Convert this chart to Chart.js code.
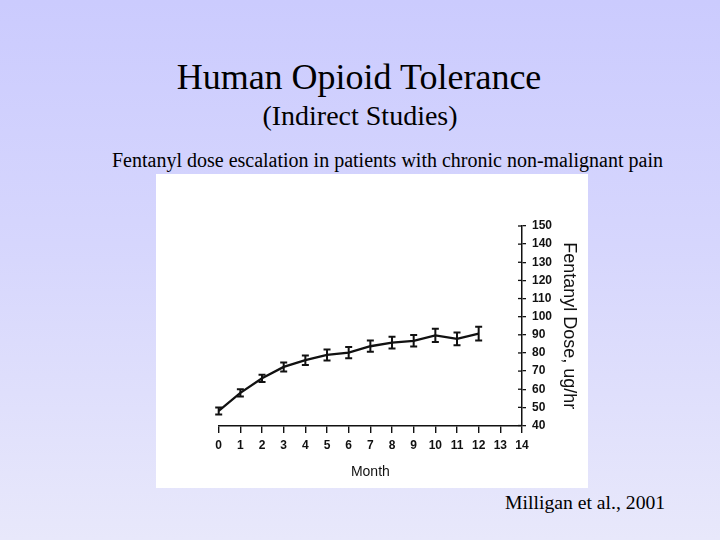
<!DOCTYPE html>
<html>
<head>
<meta charset="utf-8">
<script src="https://cdn.jsdelivr.net/npm/chart.js@4"></script>
<style>
  html, body { margin: 0; padding: 0; }
  body {
    width: 720px; height: 540px; position: relative; overflow: hidden;
    background: linear-gradient(to bottom, #cbcbfe 0%, #d6d6fd 45%, #e8e8fb 100%);
    font-family: "Liberation Serif", "Times New Roman", serif; color: #000;
  }
  .txt { position: absolute; white-space: nowrap; line-height: 1; }
  #title { left: 0; width: 718px; text-align: center; top: 59px; font-size: 36px; }
  #sub1 { left: 0; width: 720px; text-align: center; top: 101.5px; font-size: 28px; }
  #sub2 { left: 112px; top: 150px; font-size: 20px; }
  #cite { left: 505px; top: 492.5px; font-size: 19.7px; }
  #box { position: absolute; left: 156px; top: 174px; width: 432px; height: 314px; background: #fff; }
  #box canvas { display: block; }
</style>
</head>
<body>
<div class="txt" id="title">Human Opioid Tolerance</div>
<div class="txt" id="sub1">(Indirect Studies)</div>
<div class="txt" id="sub2">Fentanyl dose escalation in patients with chronic non-malignant pain</div>
<div id="box"><canvas id="c" width="432" height="314"></canvas></div>
<div class="txt" id="cite">Milligan et al., 2001</div>
<script>
// ---- data ----
const months = [0, 1, 2, 3, 4, 5, 6, 7, 8, 9, 10, 11, 12];
const doseMean = [48.0, 58.0, 66.0, 72.3, 76.0, 78.9, 80.2, 83.7, 85.7, 86.7, 89.7, 87.8, 90.7];
const doseErr = [1.9, 2.0, 2.0, 2.5, 2.6, 3.0, 3.1, 3.1, 3.3, 3.2, 3.6, 3.5, 3.8];
const xTicks = [0, 1, 2, 3, 4, 5, 6, 7, 8, 9, 10, 11, 12, 13, 14];
const yTicks = [40, 50, 60, 70, 80, 90, 100, 110, 120, 130, 140, 150];
const xTitle = 'Month';
const yTitle = 'Fentanyl Dose, ug/hr';

const points = months.map((m, i) => ({ x: m, y: doseMean[i] }));

// error bars + inward half of y tick marks, drawn through the chart's scales
const errorBars = {
  id: 'errorBars',
  afterDatasetsDraw(chart) {
    const { ctx, scales: { x, y } } = chart;
    ctx.save();
    ctx.strokeStyle = '#111';
    ctx.lineWidth = 2;
    ctx.lineCap = 'butt';
    months.forEach((m, i) => {
      const px = x.getPixelForValue(m);
      const top = y.getPixelForValue(doseMean[i] + doseErr[i]);
      const bot = y.getPixelForValue(doseMean[i] - doseErr[i]);
      ctx.beginPath();
      ctx.moveTo(px, top); ctx.lineTo(px, bot);
      ctx.moveTo(px - 3.5, top); ctx.lineTo(px + 3.5, top);
      ctx.moveTo(px - 3.5, bot); ctx.lineTo(px + 3.5, bot);
      ctx.stroke();
    });
    // inward part of the "+" y ticks
    ctx.lineWidth = 1.3;
    const ax = y.left;
    yTicks.forEach(v => {
      const py = y.getPixelForValue(v);
      ctx.beginPath();
      ctx.moveTo(ax - 4, py); ctx.lineTo(ax, py);
      ctx.stroke();
    });
    ctx.restore();
  }
};

const tickFont = { family: '"Liberation Sans", Arial, sans-serif', size: 12, weight: 'bold' };

new Chart(document.getElementById('c'), {
  type: 'line',
  data: {
    datasets: [{
      data: points,
      borderColor: '#111',
      borderWidth: 2.3,
      pointRadius: 0,
      tension: 0,
      fill: false
    }]
  },
  options: {
    responsive: false,
    animation: false,
    devicePixelRatio: 1,
    layout: { padding: { left: 62.7, top: 52, right: 0, bottom: 0 } },
    plugins: { legend: { display: false }, tooltip: { enabled: false } },
    scales: {
      x: {
        type: 'linear',
        position: 'bottom',
        min: xTicks[0], max: xTicks[xTicks.length - 1],
        afterBuildTicks(s) { s.ticks = xTicks.map(v => ({ value: v })); },
        afterFit(s) { s.height = 62.5; },
        border: { display: true, color: '#111', width: 1.5 },
        grid: { display: true, drawOnChartArea: false, drawTicks: true, tickLength: 7.5, color: '#111', lineWidth: 1.4 },
        ticks: { color: '#111', font: tickFont, padding: 5.5, maxRotation: 0, autoSkip: false },
        title: {
          display: true, text: xTitle, color: '#111',
          font: { family: '"Liberation Sans", Arial, sans-serif', size: 14 },
          padding: { top: 0, bottom: 7.5 }
        }
      },
      y: {
        type: 'linear',
        position: 'right',
        min: yTicks[0], max: yTicks[yTicks.length - 1],
        afterBuildTicks(s) { s.ticks = yTicks.map(v => ({ value: v })); },
        afterFit(s) { s.width = 66; },
        border: { display: true, color: '#111', width: 1.5 },
        grid: { display: true, drawOnChartArea: false, drawTicks: true, tickLength: 4, color: '#111', lineWidth: 1.3 },
        ticks: { color: '#111', font: tickFont, padding: 6, autoSkip: false },
        title: {
          display: true, text: yTitle, color: '#111',
          font: { family: '"Liberation Sans", Arial, sans-serif', size: 18 },
          padding: { top: 8.5, bottom: 0 }
        }
      }
    }
  },
  plugins: [errorBars]
});
</script>
</body>
</html>
